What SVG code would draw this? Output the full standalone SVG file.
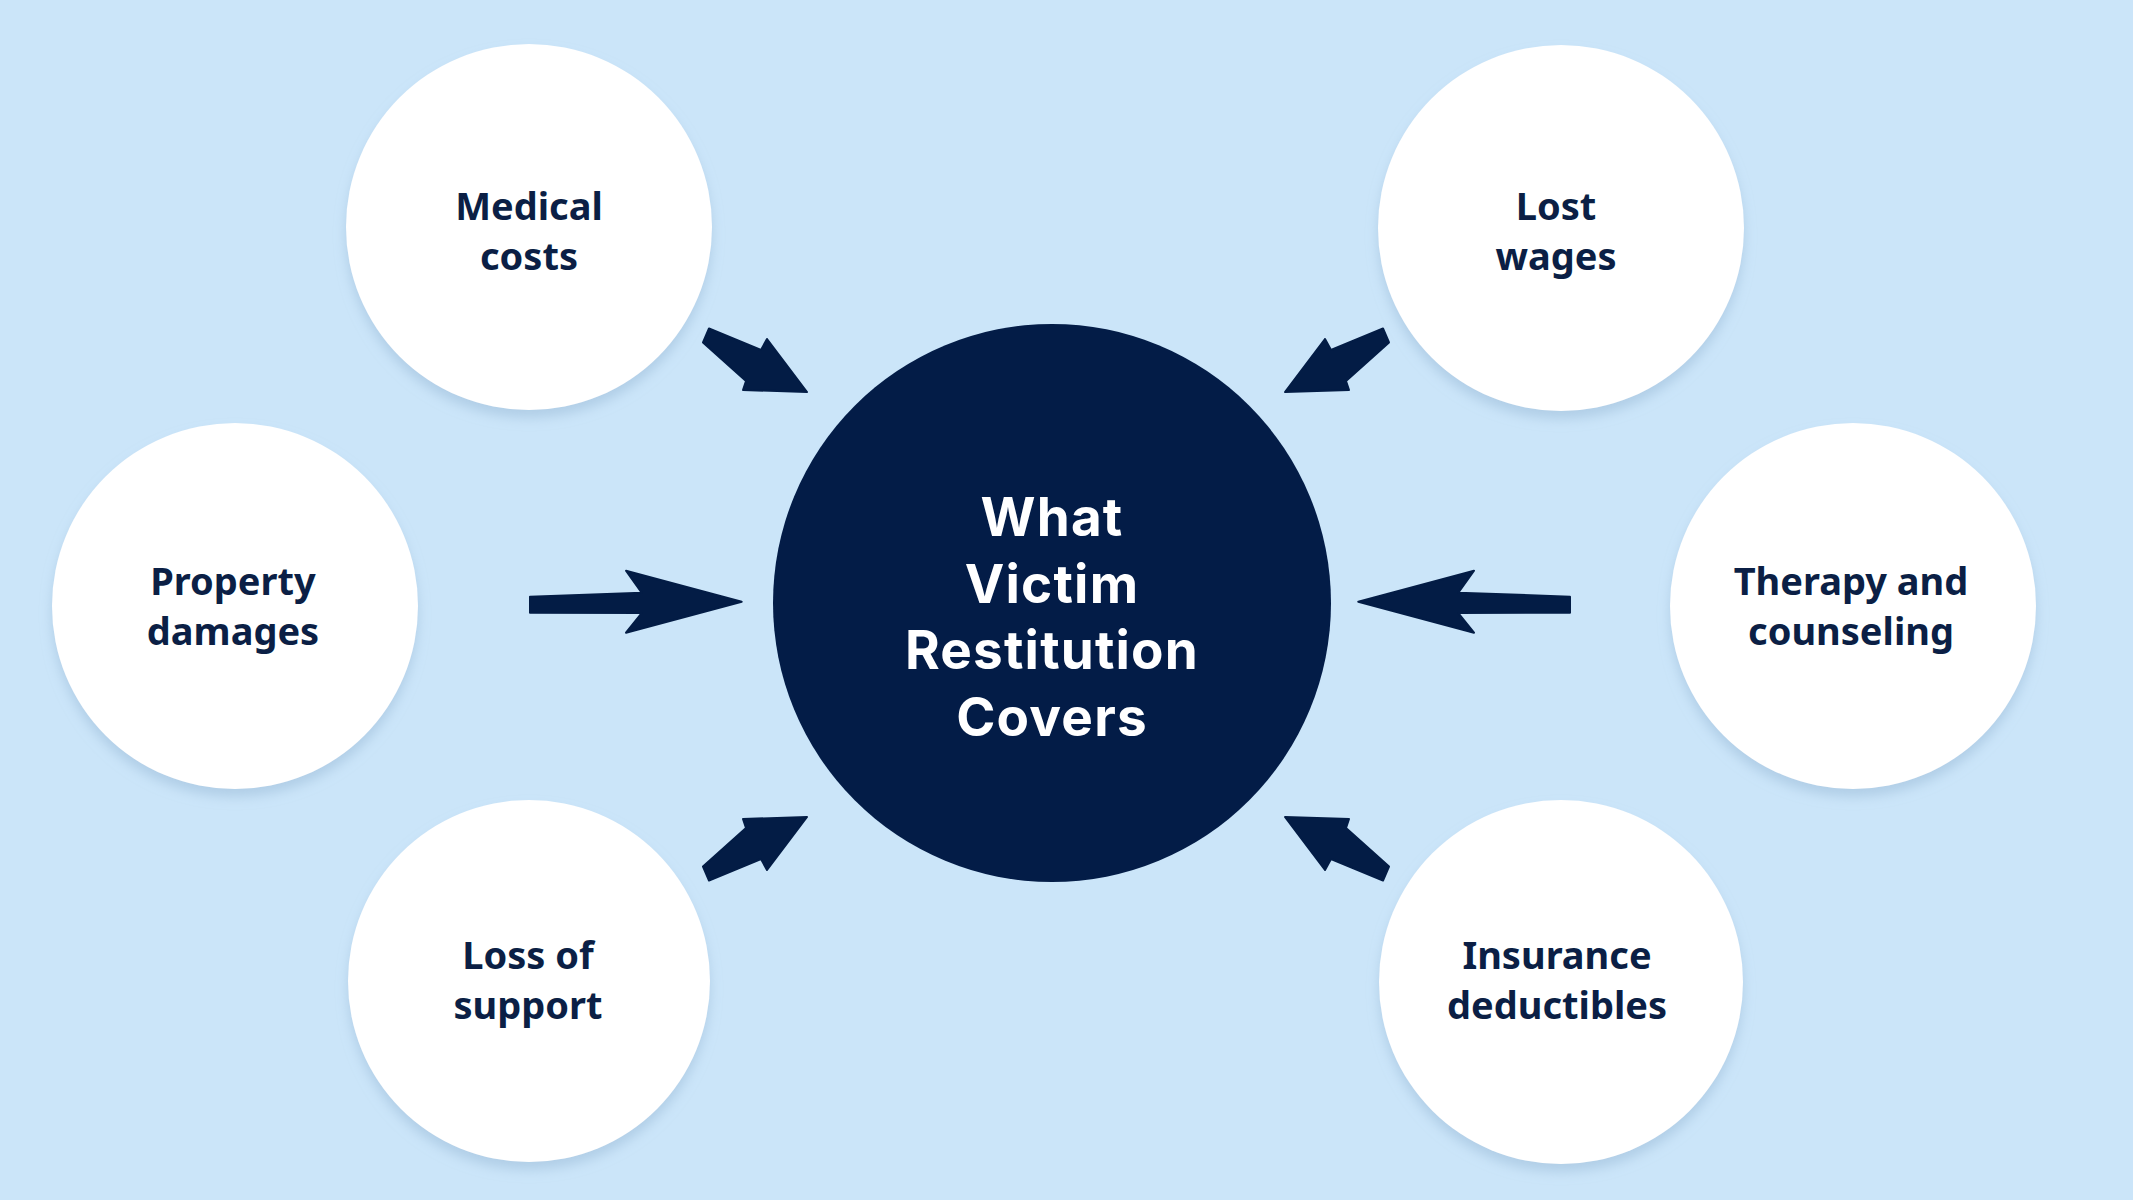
<svg xmlns="http://www.w3.org/2000/svg" xmlns:xlink="http://www.w3.org/1999/xlink" width="2133" height="1200" viewBox="0 0 2133 1200">
  <style>
    .bubble { fill: #ffffff; filter: url(#shadow); }
    .label { font-family: "Noto Sans", "Open Sans", "Liberation Sans", sans-serif; font-weight: 700; font-size: 38px; fill: #0b1f45; text-anchor: middle; }
    .title { font-family: Inter, "Liberation Sans", sans-serif; font-weight: 700; font-size: 53px; letter-spacing: 1.2px; fill: #ffffff; text-anchor: middle; }
    .arrow { fill: #031c45; stroke: #031c45; stroke-width: 2; stroke-linejoin: round; }
  </style>
  <defs>
    <filter id="shadow" x="-20%" y="-20%" width="140%" height="150%">
      <feDropShadow dx="0" dy="8" stdDeviation="6" flood-color="#9bbbd8" flood-opacity="0.55"/>
    </filter>
    <path id="arrowH" d="M530,596.7 L641.7,592.7 L626,570.7 L741.7,601.7 L626,632.7 L641.7,613 L530,612.7 Z"/>
    <path id="arrowD" d="M709,328.5 L761,350 L767,339 L807,392 L743,390 L746,381 L703,342.5 Z"/>
  </defs>

  <rect x="0" y="0" width="2133" height="1200" fill="#cbe5f9"/>

  <g id="connectors">
    <use xlink:href="#arrowD" href="#arrowD" class="arrow"/>
    <use xlink:href="#arrowD" href="#arrowD" class="arrow" transform="translate(2092,0) scale(-1,1)"/>
    <use xlink:href="#arrowD" href="#arrowD" class="arrow" transform="translate(0,1209) scale(1,-1)"/>
    <use xlink:href="#arrowD" href="#arrowD" class="arrow" transform="translate(2092,1209) scale(-1,-1)"/>
    <use xlink:href="#arrowH" href="#arrowH" class="arrow"/>
    <use xlink:href="#arrowH" href="#arrowH" class="arrow" transform="translate(2100,0) scale(-1,1)"/>
  </g>

  <g id="center">
    <circle cx="1052" cy="603" r="279" fill="#031c47"/>
    <text class="title" x="1052" y="536">What</text>
    <text class="title" x="1052" y="602.5">Victim</text>
    <text class="title" x="1052" y="669">Restitution</text>
    <text class="title" x="1052" y="735.5">Covers</text>
  </g>

  <g id="medical-costs">
    <circle class="bubble" cx="529" cy="227" r="183"/>
    <text class="label" x="529" y="220">Medical</text>
    <text class="label" x="529" y="270">costs</text>
  </g>

  <g id="lost-wages">
    <circle class="bubble" cx="1561" cy="228" r="183"/>
    <text class="label" x="1556" y="220">Lost</text>
    <text class="label" x="1556" y="270">wages</text>
  </g>

  <g id="property-damages">
    <circle class="bubble" cx="235" cy="606" r="183"/>
    <text class="label" x="233" y="595">Property</text>
    <text class="label" x="233" y="645">damages</text>
  </g>

  <g id="therapy-counseling">
    <circle class="bubble" cx="1853" cy="606" r="183"/>
    <text class="label" x="1851" y="595">Therapy and</text>
    <text class="label" x="1851" y="645">counseling</text>
  </g>

  <g id="loss-of-support">
    <circle class="bubble" cx="529" cy="981" r="181"/>
    <text class="label" x="528" y="969">Loss of</text>
    <text class="label" x="528" y="1019">support</text>
  </g>

  <g id="insurance-deductibles">
    <circle class="bubble" cx="1561" cy="982" r="182"/>
    <text class="label" x="1557" y="969">Insurance</text>
    <text class="label" x="1557" y="1019">deductibles</text>
  </g>
</svg>
